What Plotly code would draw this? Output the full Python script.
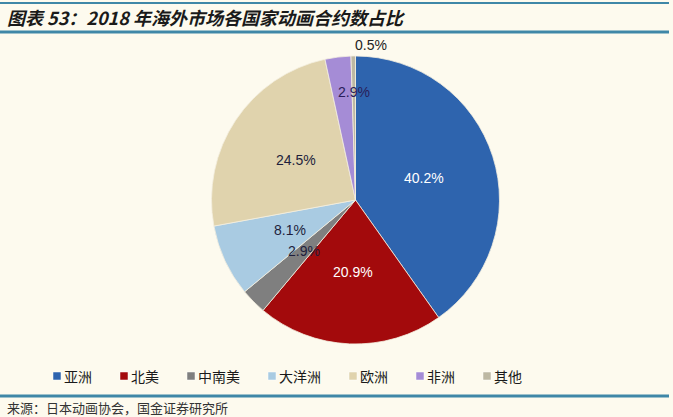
import math
import plotly.graph_objects as go

# ---- data ----
regions = ["亚洲", "北美", "中南美", "大洋洲", "欧洲", "非洲", "其他"]
shares = [40.2, 20.9, 2.9, 8.1, 24.5, 2.9, 0.5]
colors = ["#2E64AE", "#A30A0C", "#7F7F7F", "#A9CBE2", "#E0D3AD", "#A58CD6", "#BDB8A3"]
label_colors = ["#FFFFFF", "#FFFFFF", "#1E1E3C", "#1E1E3C", "#1E1E3C", "#2A1E5A", "#222222"]
title_text = "图表 53：2018 年海外市场各国家动画合约数占比"
source_text = "来源：日本动画协会，国金证券研究所"

W, H = 673, 417
BG = "#FDFAEE"
LINE = "#3F87A7"

# pie geometry (pixels)
cx, cy, R = 355.5, 200.0, 144.0
dom_x = [(cx - R) / W, (cx + R) / W]
dom_y = [(H - cy - R) / H, (H - cy + R) / H]

fig = go.Figure()
fig.add_trace(go.Pie(
    labels=regions, values=shares, sort=False, direction="clockwise", rotation=0,
    marker=dict(colors=colors, line=dict(color="#F4EFE0", width=0.8)),
    textinfo="none", hoverinfo="label+percent", showlegend=False,
    domain=dict(x=dom_x, y=dom_y),
))

# label placement (radius fraction, angle tweak in degrees) per slice
radius_frac = [0.5, 0.5, 0.5, 0.5, 0.5, 0.75, 1.08]
angle_adj = [0, 0, 0, 0, 0, 6, 6.6]

annotations = []
shapes = []
cum = 0.0
total = sum(shares)
for i, v in enumerate(shares):
    mid = (cum + v / 2) / total * 360.0 + angle_adj[i]
    cum += v
    r = radius_frac[i] * R
    px = cx + r * math.sin(math.radians(mid))
    py = cy - r * math.cos(math.radians(mid))
    annotations.append(dict(
        x=px / W, y=(H - py) / H, xref="paper", yref="paper",
        text=f"{v:.1f}%", showarrow=False,
        font=dict(family="Arial, Liberation Sans", size=14, color=label_colors[i]),
        xanchor="center", yanchor="middle",
    ))

# custom legend (small squares + text), spacing from label length
LEG_FS = 14
leg_y = 376
lx = 57.0
for i, name in enumerate(regions):
    shapes.append(dict(type="rect", xref="paper", yref="paper",
                       x0=(lx - 4) / W, x1=(lx + 4) / W,
                       y0=(H - leg_y - 4) / H, y1=(H - leg_y + 4) / H,
                       fillcolor=colors[i], line=dict(color="#FFFFFF", width=0.5)))
    annotations.append(dict(
        x=(lx + 5) / W, y=(H - leg_y) / H, xref="paper", yref="paper", text=name,
        showarrow=False, xanchor="left", yanchor="middle",
        font=dict(family="Noto Sans CJK SC", size=LEG_FS, color="#1A1A1A"),
    ))
    lx += len(name) * LEG_FS + 39

annotations.append(dict(
    x=5 / W, y=(H - 17) / H, xref="paper", yref="paper", text=f"<b><i>{title_text}</i></b>",
    showarrow=False, xanchor="left", yanchor="middle",
    font=dict(family="Noto Sans CJK SC", size=18, color="#1A1A1A"),
))
annotations.append(dict(
    x=5 / W, y=(H - 407) / H, xref="paper", yref="paper", text=source_text,
    showarrow=False, xanchor="left", yanchor="middle",
    font=dict(family="Noto Sans CJK SC", size=13, color="#333333"),
))

for yy, w in [(3, 2), (32, 3), (396, 3)]:
    shapes.append(dict(type="line", xref="paper", yref="paper", x0=0, x1=669 / W,
                       y0=(H - yy) / H, y1=(H - yy) / H, line=dict(color=LINE, width=w)))

fig.update_layout(
    width=W, height=H, margin=dict(l=0, r=0, t=0, b=0),
    paper_bgcolor=BG, plot_bgcolor=BG,
    showlegend=False,
    annotations=annotations, shapes=shapes,
)

fig.write_html("out.html")
